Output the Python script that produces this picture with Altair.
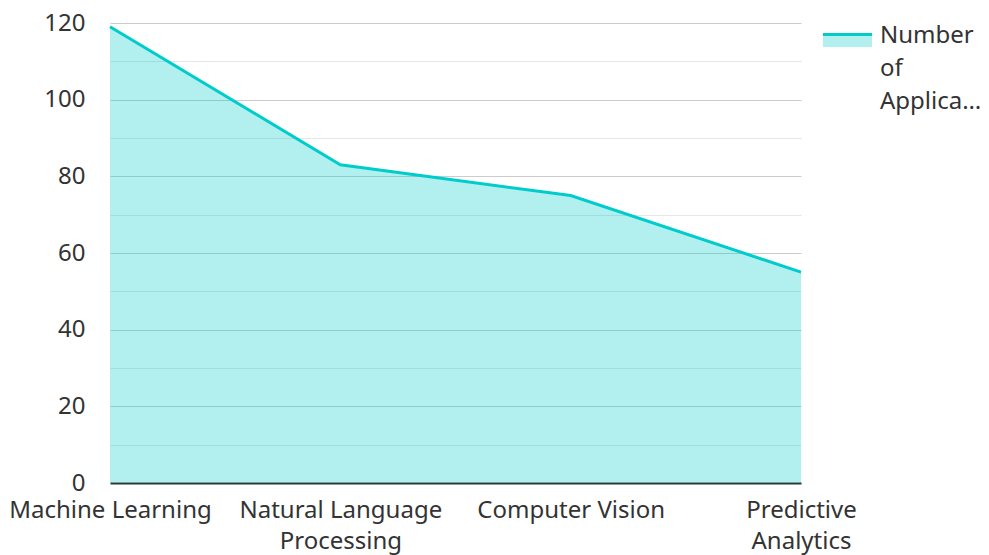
import altair as alt
import pandas as pd

categories = ["Machine Learning", "Natural Language Processing", "Computer Vision", "Predictive Analytics"]
values = [119, 83, 75, 55]
series_name = "Number of Applications"
legend_label = "Number of Applica…"
y_ticks = [0, 10, 20, 30, 40, 50, 60, 70, 80, 90, 100, 110, 120]

LINE = "#00CCCC"
FONT = "Noto Sans"

df = pd.DataFrame({"category": categories, "value": values, "series": series_name})
leg = pd.DataFrame({"series": [series_name], "label": [legend_label]})

x_enc = alt.X(
    "category:N",
    sort=categories,
    scale=alt.Scale(type="point", padding=0),
    axis=alt.Axis(
        title=None,
        labelAngle=0,
        ticks=False,
        domain=True,
        domainColor="#333333",
        domainWidth=2,
        grid=False,
        labelFont=FONT,
        labelFontSize=24,
        labelColor="#333333",
        labelPadding=15,
        labelLimit=400,
        labelLineHeight=31,
        labelExpr="datum.label == 'Natural Language Processing' ? ['Natural Language', 'Processing'] : datum.label == 'Predictive Analytics' ? ['Predictive', 'Analytics'] : datum.label",
    ),
)
y_enc = alt.Y(
    "value:Q",
    scale=alt.Scale(domain=[0, 120], nice=False),
    axis=alt.Axis(
        title=None,
        values=y_ticks,
        ticks=False,
        domain=False,
        labelFont=FONT,
        labelFontSize=24,
        labelColor="#333333",
        labelPadding=25,
        labelExpr="datum.value % 20 == 0 ? datum.label : ''",
        gridColor={"condition": {"test": "datum.value % 20 == 0", "value": "#cccccc"}, "value": "#e6e6e6"},
        gridWidth=1,
    ),
)

base = alt.Chart(df).encode(x=x_enc, y=y_enc)
area = base.mark_area(color=LINE, opacity=0.3)
line = base.mark_line(color=LINE, strokeWidth=3)

leg_rect = alt.Chart(leg).mark_rect(color=LINE, opacity=0.3, clip=False).encode(
    x=alt.value(713), x2=alt.value(762), y=alt.value(11), y2=alt.value(24)
)
leg_rule = alt.Chart(leg).mark_rule(color=LINE, strokeWidth=3, clip=False).encode(
    x=alt.value(713), x2=alt.value(762), y=alt.value(11.5)
)
leg_text = alt.Chart(leg).mark_text(
    align="left", baseline="middle", font=FONT, fontSize=24, color="#333333",
    lineBreak=" ", lineHeight=33, clip=False
).encode(x=alt.value(770), y=alt.value(13), text="label:N")

chart = alt.layer(area, line, leg_rect, leg_rule, leg_text).properties(
    width=691,
    height=460,
    autosize=alt.AutoSizeParams(type="none"),
    padding={"left": 102, "top": 15, "right": 180, "bottom": 74},
).configure_view(stroke=None)

chart.save("out.html", embed_options={"renderer": "svg", "actions": False})
